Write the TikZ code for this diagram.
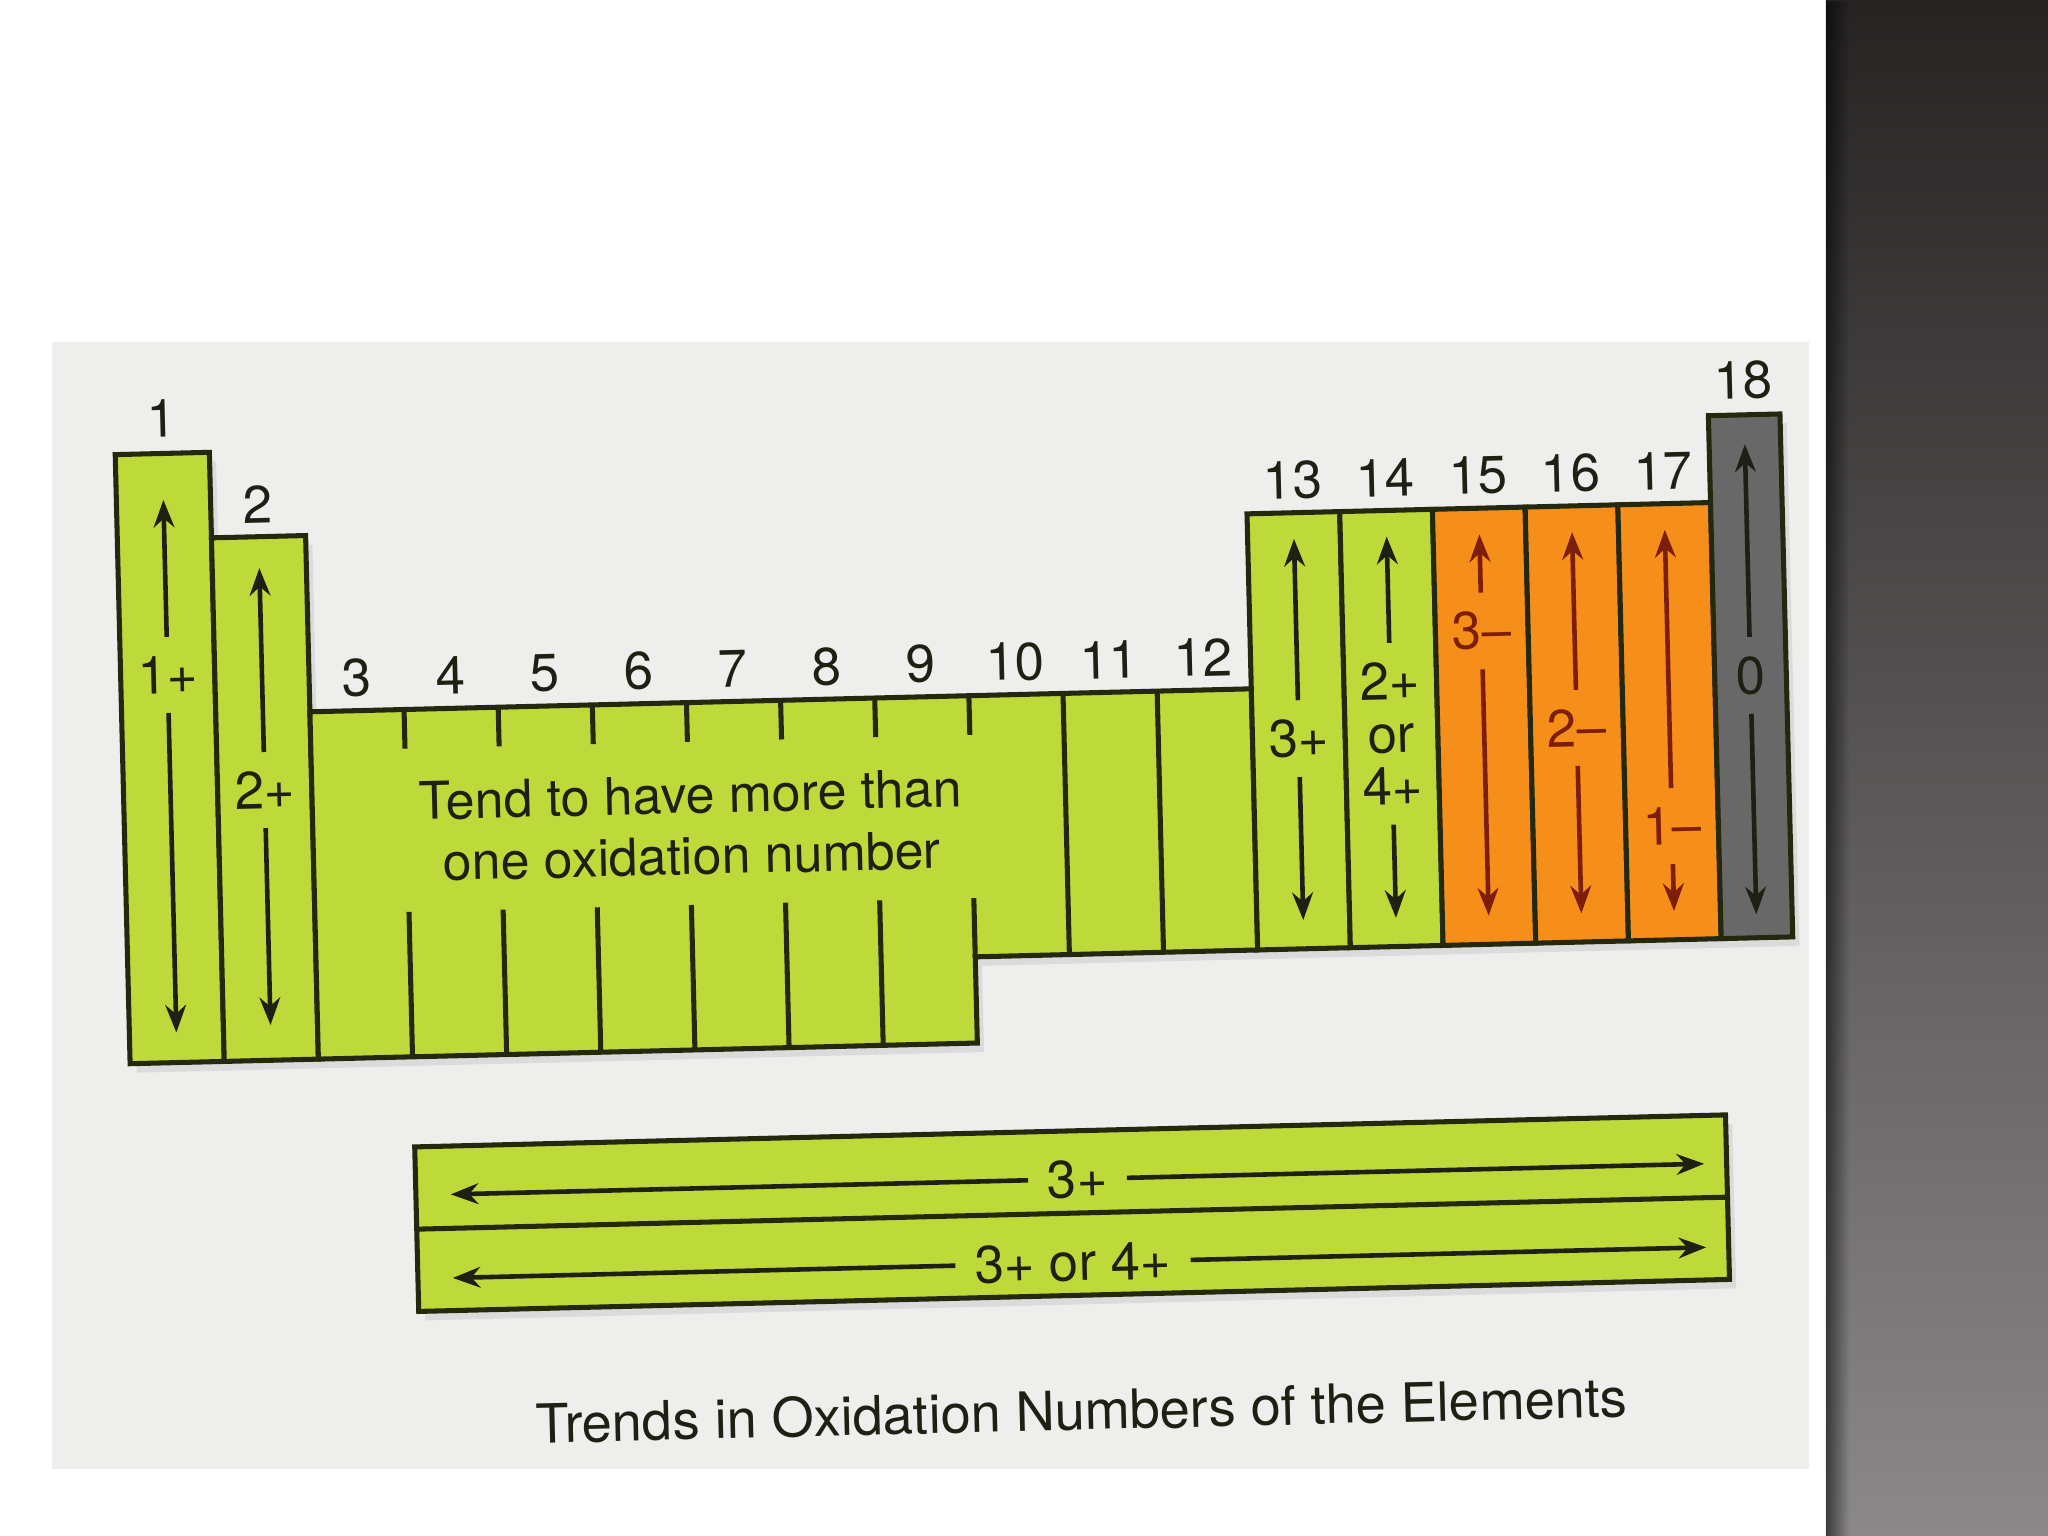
\documentclass[tikz,border=0pt]{standalone}
\usepackage{fontspec}
\setmainfont{TeX Gyre Heros}
\usetikzlibrary{arrows.meta,fadings}

\definecolor{tgreen}{RGB}{190,218,58}
\definecolor{torange}{RGB}{246,142,26}
\definecolor{tgrey}{RGB}{104,104,104}
\definecolor{edge}{RGB}{35,40,15}
\definecolor{ink}{RGB}{30,32,20}
\definecolor{rust}{RGB}{125,30,10}
\definecolor{paper}{RGB}{238,238,236}
\definecolor{panelTop}{RGB}{38,35,35}
\definecolor{panelBot}{RGB}{138,136,136}

\begin{document}
\begin{tikzpicture}[x=0.01cm, y=0.01cm,
    cell/.style={draw=edge, line width=1.1pt},
    lbl/.style={font=\fontsize{11.5}{11.5}\selectfont, text=ink, inner sep=3pt},
    oxlbl/.style={font=\fontsize{11.5}{11.5}\selectfont, text=ink, inner sep=4pt, align=center},
    oxarrow/.style={-{Stealth[length=6pt,width=4.5pt]}, line width=1pt, draw=ink},
    redlbl/.style={oxlbl, text=rust},
    redarrow/.style={oxarrow, draw=rust}]
		%%%%% START %%%%%
		
		\useasboundingbox (0,0) rectangle (1568,1176);
		\fill[white] (0,0) rectangle (1568,1176);
		\fill[paper] (40,51) rectangle (1385,914);
		\shade[top color=panelTop, bottom color=panelBot] (1398,0) rectangle (1568,1176);
		\fill[black, opacity=0.55, path fading=east] (1398,0) rectangle (1416,1176);
		
		\begin{scope}[rotate around={1.4:(730,516)}, transform shape]
		
		% shadows
		\fill[black!14, shift={(5,-7)}] (96,377) -- (744.9,377) -- (744.9,443) -- (1371,443) -- (1371,843.5) -- (1316.2,843.5) -- (1316.2,777) -- (961.2,777) -- (961.2,643) -- (240.2,643) -- (240.2,778) -- (168.1,778) -- (168.1,843.5) -- (96,843.5) -- cycle;
		\fill[black!14, shift={(5,-7)}] (312.3,182) rectangle (1316.2,308);
		
		% groups 1 and 2
		\draw[cell, fill=tgreen] (96,377) rectangle (168.1,843.5);
		\draw[cell, fill=tgreen] (168.1,377) rectangle (240.2,778);
		
		% groups 3 to 12
		\draw[cell, fill=tgreen] (240.2,377) -- (744.9,377) -- (744.9,443) -- (961.2,443) -- (961.2,643) -- (240.2,643) -- cycle;
		\draw[cell] (312.3,643) -- (312.3,613);
		\draw[cell] (384.4,643) -- (384.4,613);
		\draw[cell] (456.5,643) -- (456.5,613);
		\draw[cell] (528.6,643) -- (528.6,613);
		\draw[cell] (600.7,643) -- (600.7,613);
		\draw[cell] (672.8,643) -- (672.8,613);
		\draw[cell] (744.9,643) -- (744.9,613);
		\draw[cell] (312.3,377) -- (312.3,488);
		\draw[cell] (384.4,377) -- (384.4,488);
		\draw[cell] (456.5,377) -- (456.5,488);
		\draw[cell] (528.6,377) -- (528.6,488);
		\draw[cell] (600.7,377) -- (600.7,488);
		\draw[cell] (672.8,377) -- (672.8,488);
		\draw[cell] (744.9,443) -- (744.9,488);
		\draw[cell] (817,443) -- (817,643);
		\draw[cell] (889.1,443) -- (889.1,643);
		
		% groups 13 to 18
		\draw[cell, fill=tgreen] (961.2,443) rectangle (1032.2,777);
		\draw[cell, fill=tgreen] (1032.2,443) rectangle (1103.2,777);
		\draw[cell, fill=torange] (1103.2,443) rectangle (1174.2,777);
		\draw[cell, fill=torange] (1174.2,443) rectangle (1245.2,777);
		\draw[cell, fill=torange] (1245.2,443) rectangle (1316.2,777);
		\draw[cell, fill=tgrey] (1316.2,443) rectangle (1371,843.5);
		
		% lower rows
		\draw[cell, fill=tgreen] (312.3,182) rectangle (1316.2,308);
		\draw[cell] (312.3,245) -- (1316.2,245);
		
		% group numbers
		\node[lbl] (n1) at (132,870) {1};
		\node[lbl] (n2) at (204.2,803) {2};
		\node[lbl] (n3) at (276.3,668) {3};
		\node[lbl] (n4) at (348.4,668) {4};
		\node[lbl] (n5) at (420.5,668) {5};
		\node[lbl] (n6) at (492.6,668) {6};
		\node[lbl] (n7) at (564.7,668) {7};
		\node[lbl] (n8) at (636.8,668) {8};
		\node[lbl] (n9) at (708.9,668) {9};
		\node[lbl] (n10) at (781,668) {10};
		\node[lbl] (n11) at (853,668) {11};
		\node[lbl] (n12) at (925.2,668) {12};
		\node[lbl] (n13) at (996.7,802) {13};
		\node[lbl] (n14) at (1067.7,802) {14};
		\node[lbl] (n15) at (1138.7,802) {15};
		\node[lbl] (n16) at (1209.7,802) {16};
		\node[lbl] (n17) at (1280.7,802) {17};
		\node[lbl] (n18) at (1343.6,870) {18};
		
		% oxidation numbers
		\node[oxlbl] (ox1) at (132,674) {1+};
		\coordinate (up1) at (132,808);
		\coordinate (dn1) at (132,400);
		\draw[oxarrow] (ox1) -- (up1);
		\draw[oxarrow] (ox1) -- (dn1);
		
		\node[oxlbl] (ox2) at (204.2,584) {2+};
		\coordinate (up2) at (204.2,754);
		\coordinate (dn2) at (204.2,404);
		\draw[oxarrow] (ox2) -- (up2);
		\draw[oxarrow] (ox2) -- (dn2);
		
		\node[oxlbl] (ox13) at (996.7,604) {3+};
		\coordinate (up13) at (996.7,757);
		\coordinate (dn13) at (996.7,465);
		\draw[oxarrow] (ox13) -- (up13);
		\draw[oxarrow] (ox13) -- (dn13);
		
		\node[oxlbl] (ox14) at (1067.7,606) {2+\\or\\4+};
		\coordinate (up14) at (1067.7,757);
		\coordinate (dn14) at (1067.7,465);
		\draw[oxarrow] (ox14) -- (up14);
		\draw[oxarrow] (ox14) -- (dn14);
		
		\node[redlbl] (ox15) at (1138.7,683) {3–};
		\coordinate (up15) at (1138.7,757);
		\coordinate (dn15) at (1138.7,465);
		\draw[redarrow] (ox15) -- (up15);
		\draw[redarrow] (ox15) -- (dn15);
		
		\node[redlbl] (ox16) at (1209.7,607) {2–};
		\coordinate (up16) at (1209.7,757);
		\coordinate (dn16) at (1209.7,465);
		\draw[redarrow] (ox16) -- (up16);
		\draw[redarrow] (ox16) -- (dn16);
		
		\node[redlbl] (ox17) at (1280.7,530) {1–};
		\coordinate (up17) at (1280.7,757);
		\coordinate (dn17) at (1280.7,465);
		\draw[redarrow] (ox17) -- (up17);
		\draw[redarrow] (ox17) -- (dn17);
		
		\node[oxlbl] (ox18) at (1343.6,644) {0};
		\coordinate (up18) at (1343.6,821);
		\coordinate (dn18) at (1343.6,461);
		\draw[oxarrow] (ox18) -- (up18);
		\draw[oxarrow] (ox18) -- (dn18);
		
		\node[oxlbl, font=\fontsize{11.3}{13.4}\selectfont] (multi) at (530,549) {Tend to have more than\\one oxidation number};
		
		% lower rows
		\node[oxlbl] (row1) at (819,271) {3+};
		\coordinate (row1l) at (339,271);
		\coordinate (row1r) at (1299,271);
		\draw[oxarrow] (row1) -- (row1l);
		\draw[oxarrow] (row1) -- (row1r);
		
		\node[oxlbl] (row2) at (814,207) {3+ or 4+};
		\coordinate (row2l) at (339,207);
		\coordinate (row2r) at (1299,207);
		\draw[oxarrow] (row2) -- (row2l);
		\draw[oxarrow] (row2) -- (row2r);
		
		\node[lbl, font=\fontsize{11.8}{12}\selectfont] (caption) at (818,94) {Trends in Oxidation Numbers of the Elements};
		
		\end{scope}
		
		%%%%% END %%%%%
\end{tikzpicture}
\end{document}
